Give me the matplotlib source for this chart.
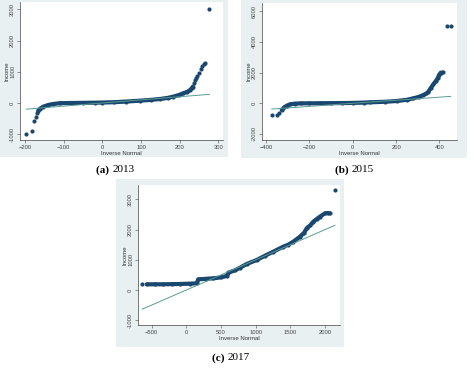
import matplotlib
matplotlib.use("Agg")
import matplotlib.pyplot as plt
from matplotlib.patches import Rectangle

# panel (a) 2013: inverse normal vs income
x_2013 = [-197, -183, -177, -172, -170, -166, -161, -153, -140, -127, -109, -80, -50, -20, 0, 30, 60,
          97, 125, 149, 170, 183, 198, 209, 220, 227, 231, 234, 237, 240, 243, 246, 251, 254, 258,
          262, 266, 277]
y_2013 = [-990, -896, -590, -460, -330, -245, -181, -117, -64, -32, -5, 0, 5, 10, 15, 25, 45,
          74, 100, 128, 165, 203, 255, 309, 360, 416, 470, 523, 629, 736, 800, 864, 971, 1077, 1195,
          1240, 1269, 2997]

# panel (b) 2015
x_2015 = [-374, -351, -340, -328, -316, -305, -289, -266, -240, -200, -150, -100, -50, 0, 50, 80,
          150, 203, 250, 280, 305, 326, 340, 349, 361, 372, 383, 392, 398, 406, 412, 418, 434, 452]
y_2015 = [-763, -763, -613, -437, -261, -157, -65, -20, -5, 0, 5, 10, 15, 25, 45, 65,
          100, 150, 230, 326, 420, 541, 640, 757, 1018, 1239, 1455, 1631, 1846, 2000, 2040, 2061,
          5042, 5042]

# panel (c) 2017
x_2017 = [-635, -571, -450, -332, -200, -91, 50, 150, 173, 280, 390, 500, 582, 606, 700, 775, 870,
          1015, 1130, 1255, 1399, 1470, 1543, 1640, 1700, 1736, 1790, 1832, 1880, 1928, 2000, 2040,
          2072, 2144]
y_2017 = [189, 189, 189, 189, 195, 199, 210, 221, 354, 370, 387, 420, 464, 574, 650, 740, 860,
          994, 1130, 1270, 1436, 1500, 1602, 1768, 1900, 2044, 2150, 2265, 2350, 2431, 2541, 2550,
          2541, 3314]

panels = [
    # label, year, x, y, dense slice, xticks, yticks, xlim, ylim, bg box, axes box, caption (pixels)
    ("(a)", "2013", x_2013, y_2013, (5, 28), [-200, -100, 0, 100, 200, 300],
     [-1000, 0, 1000, 2000, 3000], (-213, 312), (-1184, 3232),
     (0, 0, 228, 157), (20, 2, 223, 140), (115, 170)),
    ("(b)", "2015", x_2015, y_2015, (3, 30), [-400, -200, 0, 200, 400],
     [-2000, 0, 2000, 4000, 6000], (-419, 481), (-2394, 6543),
     (241, 0, 467, 158), (262, 3, 457, 140), (354, 170)),
    ("(c)", "2017", x_2017, y_2017, (1, 33), [-500, 0, 500, 1000, 1500, 2000],
     [-1000, 0, 1000, 2000, 3000], (-697, 2217), (-1160, 3480),
     (116, 179, 344, 347), (138, 185, 340, 325), (230, 358)),
]

W, H = 474, 377
BG = "#e8f0f2"
DOT = "#1a476f"
REF = "#5a9c95"

fig = plt.figure(figsize=(W / 100, H / 100), dpi=100)
fig.patch.set_facecolor("white")


def fbox(l, t, r, b):
    return [l / W, 1 - b / H, (r - l) / W, (b - t) / H]


for lab, year, xs, ys, dense, xt, yt, xl, yl, bg, box, cap in panels:
    l, t, r, b = bg
    fig.patches.append(Rectangle((l / W, 1 - b / H), (r - l) / W, (b - t) / H,
                                 transform=fig.transFigure, facecolor=BG, edgecolor="none", zorder=-5))
    ax = fig.add_axes(fbox(*box))
    ax.set_facecolor("white")
    # reference line y = x
    lo, hi = min(xs), max(xs)
    ax.plot([lo, hi], [lo, hi], color=REF, lw=0.7, zorder=3)
    i0, i1 = dense
    ax.plot(xs[i0:i1], ys[i0:i1], color=DOT, lw=3.0, solid_capstyle="round",
            solid_joinstyle="round", zorder=2)
    ax.plot(xs, ys, "o", color=DOT, ms=3.0, mec="none", zorder=2)
    ax.set_xlim(*xl)
    ax.set_ylim(*yl)
    ax.set_xticks(xt)
    ax.set_yticks(yt)
    ax.set_yticklabels([str(v) for v in yt], rotation=90, va="center")
    for s in ["top", "right"]:
        ax.spines[s].set_visible(False)
    for s in ["left", "bottom"]:
        ax.spines[s].set_linewidth(0.5)
        ax.spines[s].set_color("#444444")
    ax.tick_params(labelsize=4.2, length=2, width=0.4, pad=1.5, colors="#444444")
    ax.set_xlabel("Inverse Normal", fontsize=4.3, family="Liberation Sans", labelpad=0.5,
                  color="#333333")
    ax.set_ylabel("Income", fontsize=4.3, family="Liberation Sans", labelpad=0.5,
                  color="#333333")
    for tl in ax.get_xticklabels() + ax.get_yticklabels():
        tl.set_family("Liberation Sans")
    cx, cy = cap
    fig.text(cx / W - 0.006, 1 - cy / H, lab + " ", ha="right", va="center",
             fontsize=8, family="Liberation Serif", fontweight="bold")
    fig.text(cx / W - 0.006, 1 - cy / H, year, ha="left", va="center",
             fontsize=8, family="Liberation Serif")

fig.savefig("out.png", dpi=100)
